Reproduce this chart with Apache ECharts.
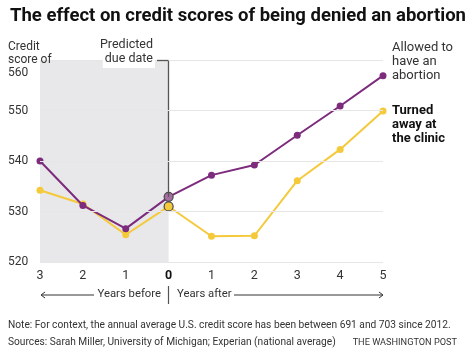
<!DOCTYPE html>
<html>
<head>
<meta charset="utf-8">
<script src="https://cdn.jsdelivr.net/npm/echarts@6/dist/echarts.min.js"></script>
<style>html,body{margin:0;padding:0;background:#fff}#c{width:474px;height:353px}</style>
</head>
<body>
<div id="c"></div>
<script>
var categories = ['3', '2', '1', '0', '1', '2', '3', '4', '5'];
var allowed = [540.0, 531.2, 526.6, 532.9, 537.2, 539.2, 545.1, 550.9, 556.9];
var turnedAway = [534.2, 531.5, 525.4, 531.0, 525.1, 525.2, 536.1, 542.3, 549.9];
var yTicks = [520, 530, 540, 550, 560];

var PURPLE = '#7d2b7c';
var YELLOW = '#f4c93a';
var FONT = 'Roboto, "Liberation Sans", sans-serif';

function pointStyle(data, color, fill0) {
  return data.map(function (v, i) {
    if (i === 3) {
      return { value: v, symbolSize: 9, itemStyle: { color: fill0, borderColor: '#4a4a4a', borderWidth: 1.2 } };
    }
    return { value: v, symbolSize: 7, itemStyle: { color: color } };
  });
}

var chart = echarts.init(document.getElementById('c'), null, { renderer: 'canvas' });
chart.setOption({
  backgroundColor: '#fff',
  animation: false,
  title: {
    text: 'The effect on credit scores of being denied an abortion',
    left: 5, top: 2,
    textStyle: { fontFamily: FONT, fontSize: 18.5, fontWeight: 'bold', color: '#111' }
  },
  grid: { left: 40, right: 91, top: 60, bottom: 91 },
  xAxis: {
    type: 'category',
    data: categories,
    boundaryGap: false,
    axisLine: { show: false },
    axisTick: { show: false },
    axisLabel: {
      margin: 7,
      fontFamily: FONT, fontSize: 12.5, color: '#333',
      formatter: function (v, i) { return i === 3 ? '{b|' + v + '}' : v; },
      rich: { b: { fontWeight: 'bold', fontFamily: FONT, fontSize: 12.5, color: '#111' } }
    }
  },
  yAxis: {
    type: 'value',
    z: 10,
    min: yTicks[0], max: yTicks[yTicks.length - 1], interval: 10,
    axisLine: { show: false },
    axisTick: { show: false },
    splitLine: { lineStyle: { color: '#e6e6e6', width: 1 } },
    axisLabel: {
      align: 'left', margin: 32,
      fontFamily: FONT, fontSize: 12, color: '#333', lineHeight: 13,
      formatter: function (v) { return v === 560 ? 'Credit\nscore of\n560' : String(v); }
    }
  },
  graphic: [
    { type: 'text', z: 100, right: 321, top: 38, style: { text: 'Predicted', font: '12.5px ' + FONT, fill: '#333' } },
    { type: 'text', z: 100, right: 319, top: 52, style: { text: 'due date', font: '12.5px ' + FONT, fill: '#333', backgroundColor: '#fff', padding: [0, 2, 3, 2] } },
    { type: 'line', z: 100, shape: { x1: 157, y1: 60.5, x2: 168.5, y2: 60.5 }, style: { stroke: '#555', lineWidth: 1.3 } },
    // bottom arrows
    { type: 'line', z: 100, shape: { x1: 41, y1: 295, x2: 94, y2: 295 }, style: { stroke: '#333', lineWidth: 1 } },
    { type: 'polyline', z: 100, shape: { points: [[45, 292], [41, 295], [45, 298]] }, style: { stroke: '#333', lineWidth: 1, fill: null } },
    { type: 'text', z: 100, right: 313, top: 289, style: { text: 'Years before', font: '11.3px ' + FONT, fill: '#333' } },
    { type: 'line', z: 100, shape: { x1: 168.5, y1: 286, x2: 168.5, y2: 304 }, style: { stroke: '#555', lineWidth: 1.2 } },
    { type: 'text', z: 100, left: 177, top: 289, style: { text: 'Years after', font: '11.3px ' + FONT, fill: '#333' } },
    { type: 'line', z: 100, shape: { x1: 234, y1: 295, x2: 383, y2: 295 }, style: { stroke: '#333', lineWidth: 1 } },
    { type: 'polyline', z: 100, shape: { points: [[379, 292], [383, 295], [379, 298]] }, style: { stroke: '#333', lineWidth: 1, fill: null } },
    // notes
    { type: 'text', z: 100, left: 8, top: 320, style: { text: 'Note: For context, the annual average U.S. credit score has been between 691 and 703 since 2012.', font: '10.2px ' + FONT, fill: '#333' } },
    { type: 'text', z: 100, left: 8, top: 337, style: { text: 'Sources: Sarah Miller, University of Michigan; Experian (national average)', font: '10.2px ' + FONT, fill: '#333' } },
    { type: 'text', z: 100, right: 17, top: 338, style: { text: 'THE WASHINGTON POST', font: '9.2px ' + FONT, fill: '#333' } }
  ],
  series: [
    {
      name: 'Turned away at the clinic',
      type: 'line',
      data: pointStyle(turnedAway, YELLOW, YELLOW),
      symbol: 'circle',
      lineStyle: { color: YELLOW, width: 2 },
      itemStyle: { color: YELLOW },
      z: 3,
      endLabel: {
        show: true, distance: 9, offset: [0, 14],
        formatter: 'Turned\naway at\nthe clinic',
        fontFamily: FONT, fontSize: 13, fontWeight: 'bold', color: '#111', lineHeight: 14
      },
      markArea: {
        silent: true,
        itemStyle: { color: '#e8e8ea' },
        data: [[{ xAxis: 0, yAxis: 560 }, { xAxis: 3, yAxis: 520 }]]
      },
      markLine: {
        silent: true, symbol: 'none',
        lineStyle: { color: '#555', width: 1.3, type: 'solid' },
        label: { show: false },
        data: [[{ coord: [3, 560] }, { coord: [3, allowed[3]] }]]
      }
    },
    {
      name: 'Allowed to have an abortion',
      type: 'line',
      data: pointStyle(allowed, PURPLE, '#a66fa1'),
      symbol: 'circle',
      lineStyle: { color: PURPLE, width: 2 },
      itemStyle: { color: PURPLE },
      z: 4,
      endLabel: {
        show: true, distance: 9, offset: [0, -14],
        formatter: 'Allowed to\nhave an\nabortion',
        fontFamily: FONT, fontSize: 13, color: '#333', lineHeight: 14
      }
    }
  ]
});
</script>
</body>
</html>
